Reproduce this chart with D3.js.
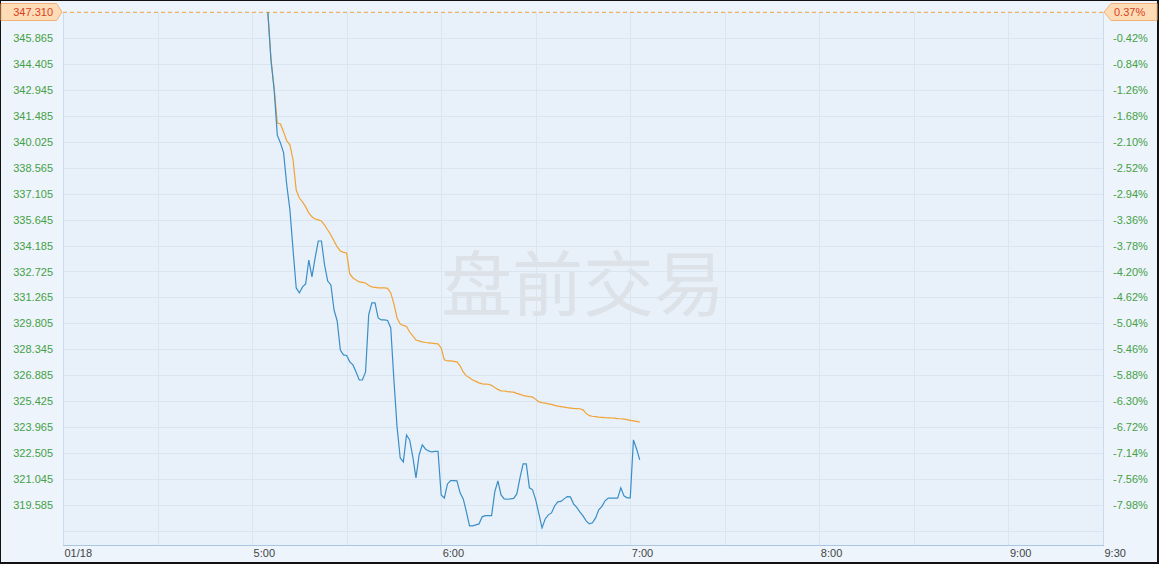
<!DOCTYPE html>
<html>
<head>
<meta charset="utf-8">
<script src="https://cdn.jsdelivr.net/npm/d3@7"></script>
<style>
  body { margin: 0; background: #000; }
  svg { display: block; font-family: "Liberation Sans", Arial, sans-serif; }
</style>
</head>
<body>
<div id="chart"></div>
<script>
(function(){
// price ticks (left) and percent ticks (right)
const priceTicks = [347.310, 345.865, 344.405, 342.945, 341.485, 340.025, 338.565, 337.105, 335.645, 334.185,
  332.725, 331.265, 329.805, 328.345, 326.885, 325.425, 323.965, 322.505, 321.045, 319.585];
const pctLabels = ["0.37%", "-0.42%", "-0.84%", "-1.26%", "-1.68%", "-2.10%", "-2.52%", "-2.94%", "-3.36%", "-3.78%",
  "-4.20%", "-4.62%", "-5.04%", "-5.46%", "-5.88%", "-6.30%", "-6.72%", "-7.14%", "-7.56%", "-7.98%"];
const extraGrid = [318.125];

const timeTicks = ["04:00", "05:00", "06:00", "07:00", "08:00", "09:00", "09:30"];
const timeLabels = ["01/18", "5:00", "6:00", "7:00", "8:00", "9:00", "9:30"];
const sessionStart = "04:00";
const sessionEnd = "09:30";

// one value per minute, starting 5:05
const firstMinute = "05:05";
const priceValues = [347.31, 344.63, 342.94, 340.40, 339.96, 339.40, 337.59, 336.19, 333.94, 331.80,
  331.52, 331.86, 332.03, 333.37, 332.42, 333.49, 334.44, 334.44, 333.09, 332.19,
  331.97, 330.56, 329.94, 328.31, 328.03, 328.00, 327.64, 327.47, 327.07, 326.62,
  326.62, 327.07, 330.28, 330.96, 330.96, 330.11, 330.00, 330.00, 329.97, 329.55,
  326.62, 323.98, 322.23, 322.01, 323.53, 323.25, 322.29, 321.11, 322.40, 322.97,
  322.74, 322.63, 322.57, 322.60, 322.60, 320.15, 319.98, 320.77, 320.96, 320.96,
  320.94, 320.27, 319.93, 319.20, 318.41, 318.41, 318.47, 318.52, 318.92, 318.99,
  318.99, 318.99, 320.32, 320.94, 320.15, 319.93, 319.91, 319.93, 319.96, 320.21,
  321.11, 321.90, 321.90, 320.55, 320.44, 319.87, 319.09, 318.30, 318.80, 319.03,
  319.14, 319.53, 319.76, 319.79, 319.93, 320.06, 320.04, 319.65, 319.45, 319.20,
  318.97, 318.69, 318.52, 318.58, 318.86, 319.31, 319.51, 319.82, 319.97, 319.97,
  319.97, 319.97, 320.55, 320.10, 319.99, 319.99, 323.25, 322.74, 322.12];
const avgValues = [347.31, 344.63, 343.05, 341.08, 341.03, 340.58, 340.07, 339.85, 339.00, 337.31,
  336.86, 336.64, 336.36, 336.02, 335.80, 335.68, 335.63, 335.57, 335.34, 335.06,
  334.78, 334.44, 334.11, 333.88, 333.80, 333.77, 332.59, 332.36, 332.25, 332.14,
  332.11, 332.08, 331.94, 331.86, 331.83, 331.80, 331.80, 331.80, 331.78, 331.52,
  330.90, 330.11, 329.77, 329.69, 329.63, 329.32, 329.10, 328.87, 328.82, 328.76,
  328.73, 328.71, 328.69, 328.67, 328.65, 328.42, 327.75, 327.69, 327.69, 327.67,
  327.64, 327.41, 327.07, 326.85, 326.74, 326.62, 326.54, 326.46, 326.40, 326.39,
  326.38, 326.32, 326.20, 326.09, 326.00, 326.00, 325.97, 325.95, 325.94, 325.87,
  325.81, 325.75, 325.71, 325.68, 325.66, 325.53, 325.39, 325.35, 325.32, 325.28,
  325.25, 325.19, 325.15, 325.12, 325.09, 325.06, 325.04, 325.02, 325.01, 325.00,
  324.94, 324.74, 324.61, 324.58, 324.56, 324.53, 324.52, 324.50, 324.49, 324.48,
  324.47, 324.45, 324.44, 324.42, 324.39, 324.35, 324.32, 324.29, 324.25];

const width = 1159;
const height = 564;
const left = 63, right = 1103, top = 12, bottom = 545;

const parse = d3.timeParse("%H:%M");
const t0 = parse(firstMinute);

const svg = d3.select("#chart")
  .append("svg")
  .attr("width", width)
  .attr("height", height);

// frame + background
svg.append("rect").attr("width", width).attr("height", height).attr("fill", "#111");
svg.append("rect")
  .attr("x", 1).attr("y", 1)
  .attr("width", width - 3).attr("height", height - 3)
  .attr("fill", "#edf4fb");
svg.append("rect")
  .attr("x", left).attr("y", top)
  .attr("width", right - left).attr("height", bottom - top)
  .attr("fill", "#e8f1fa");

const x = d3.scaleTime()
  .domain([parse(sessionStart), parse(sessionEnd)])
  .range([left, right]);

const y = d3.scaleLinear()
  .domain([priceTicks[priceTicks.length - 1], priceTicks[1]])
  .range([505, 38]);

// grid
const grid = svg.append("g").attr("class", "grid");
grid.selectAll(".hgrid")
  .data(priceTicks.slice(1).concat(extraGrid))
  .enter().append("line")
  .attr("x1", left).attr("x2", right)
  .attr("y1", d => Math.round(y(d)) + 0.5)
  .attr("y2", d => Math.round(y(d)) + 0.5)
  .attr("stroke", "#d9e6f2");
grid.selectAll(".vgrid")
  .data(d3.timeMinute.every(30).range(parse(sessionStart), parse(sessionEnd)))
  .enter().append("line")
  .attr("x1", d => Math.round(x(d)) + 0.5)
  .attr("x2", d => Math.round(x(d)) + 0.5)
  .attr("y1", top).attr("y2", bottom)
  .attr("stroke", "#d9e6f2");

// axis frame lines
svg.append("line")
  .attr("x1", left + 0.5).attr("x2", left + 0.5).attr("y1", top).attr("y2", bottom)
  .attr("stroke", "#c9dcee");
svg.append("line")
  .attr("x1", right + 0.5).attr("x2", right + 0.5).attr("y1", top).attr("y2", bottom)
  .attr("stroke", "#c9dcee");
svg.append("line")
  .attr("x1", left).attr("x2", right + 1).attr("y1", bottom + 0.5).attr("y2", bottom + 0.5)
  .attr("stroke", "#a9c7e3");

// watermark
svg.append("text")
  .attr("x", (left + right) / 2)
  .attr("y", (top + bottom) / 2)
  .attr("text-anchor", "middle")
  .attr("dominant-baseline", "central")
  .style("font-family", "'Noto Sans CJK SC', sans-serif")
  .style("font-size", "71px")
  .attr("fill", "#dce2e8")
  .text("盘前交易");

// left axis
const yLeft = d3.axisLeft(y)
  .tickValues(priceTicks.slice(1))
  .tickSize(0)
  .tickPadding(0)
  .tickFormat(d3.format(".3f"));
const gl = svg.append("g").attr("transform", "translate(53,0)").call(yLeft);
gl.select(".domain").remove();
gl.selectAll("text").attr("fill", "#45a045").style("font-size", "11px").style("font-family", "'Liberation Sans', Arial, sans-serif");

// right axis
const yRight = d3.axisRight(y)
  .tickValues(priceTicks.slice(1))
  .tickSize(0)
  .tickPadding(0)
  .tickFormat(d => pctLabels[priceTicks.indexOf(d)]);
const gr = svg.append("g").attr("transform", "translate(1113,0)").call(yRight);
gr.select(".domain").remove();
gr.selectAll("text").attr("fill", "#45a045").style("font-size", "11px").style("font-family", "'Liberation Sans', Arial, sans-serif");

// bottom axis
const xAxis = d3.axisBottom(x)
  .tickValues(timeTicks.map(parse))
  .tickSize(0)
  .tickPadding(0)
  .tickFormat((d, i) => timeLabels[i]);
const gx = svg.append("g").attr("transform", `translate(0,${bottom})`).call(xAxis);
gx.select(".domain").remove();
gx.selectAll("text")
  .attr("text-anchor", "start")
  .attr("dx", 1)
  .attr("y", 12)
  .attr("dy", 0)
  .attr("fill", "#444")
  .style("font-size", "11px")
  .style("font-family", "'Liberation Sans', Arial, sans-serif");

// reference line at top price
const yTop = y(priceTicks[0]);
svg.append("line")
  .attr("x1", left).attr("x2", right)
  .attr("y1", yTop).attr("y2", yTop)
  .attr("stroke", "#f0a24a")
  .attr("stroke-dasharray", "4,3");

// series
const line = d3.line()
  .x((d, i) => x(d3.timeMinute.offset(t0, i)))
  .y(d => y(d));

svg.append("path")
  .datum(avgValues)
  .attr("d", line)
  .attr("fill", "none")
  .attr("stroke", "#f2a233")
  .attr("stroke-width", 1.2);

svg.append("path")
  .datum(priceValues)
  .attr("d", line)
  .attr("fill", "none")
  .attr("stroke", "#3a8ec6")
  .attr("stroke-width", 1.2);

// value tags
const tagY = Math.round(yTop);
svg.append("path")
  .attr("d", `M1,${tagY - 8.5} H56.5 L62,${tagY} L56.5,${tagY + 8.5} H1 Z`)
  .attr("fill", "#fddcb6")
  .attr("stroke", "#f3b07a");
svg.append("text")
  .attr("x", 53).attr("y", tagY).attr("dy", "0.35em")
  .attr("text-anchor", "end")
  .attr("fill", "#d9401f")
  .style("font-size", "11px")
  .text(d3.format(".3f")(priceTicks[0]));

svg.append("path")
  .attr("d", `M1157,${tagY - 8.5} H1111 L1104,${tagY} L1111,${tagY + 8.5} H1157 Z`)
  .attr("fill", "#fddcb6")
  .attr("stroke", "#f3b07a");
svg.append("text")
  .attr("x", 1114).attr("y", tagY).attr("dy", "0.35em")
  .attr("fill", "#d9401f")
  .style("font-size", "11px")
  .text(pctLabels[0]);

})();
</script>
</body>
</html>
